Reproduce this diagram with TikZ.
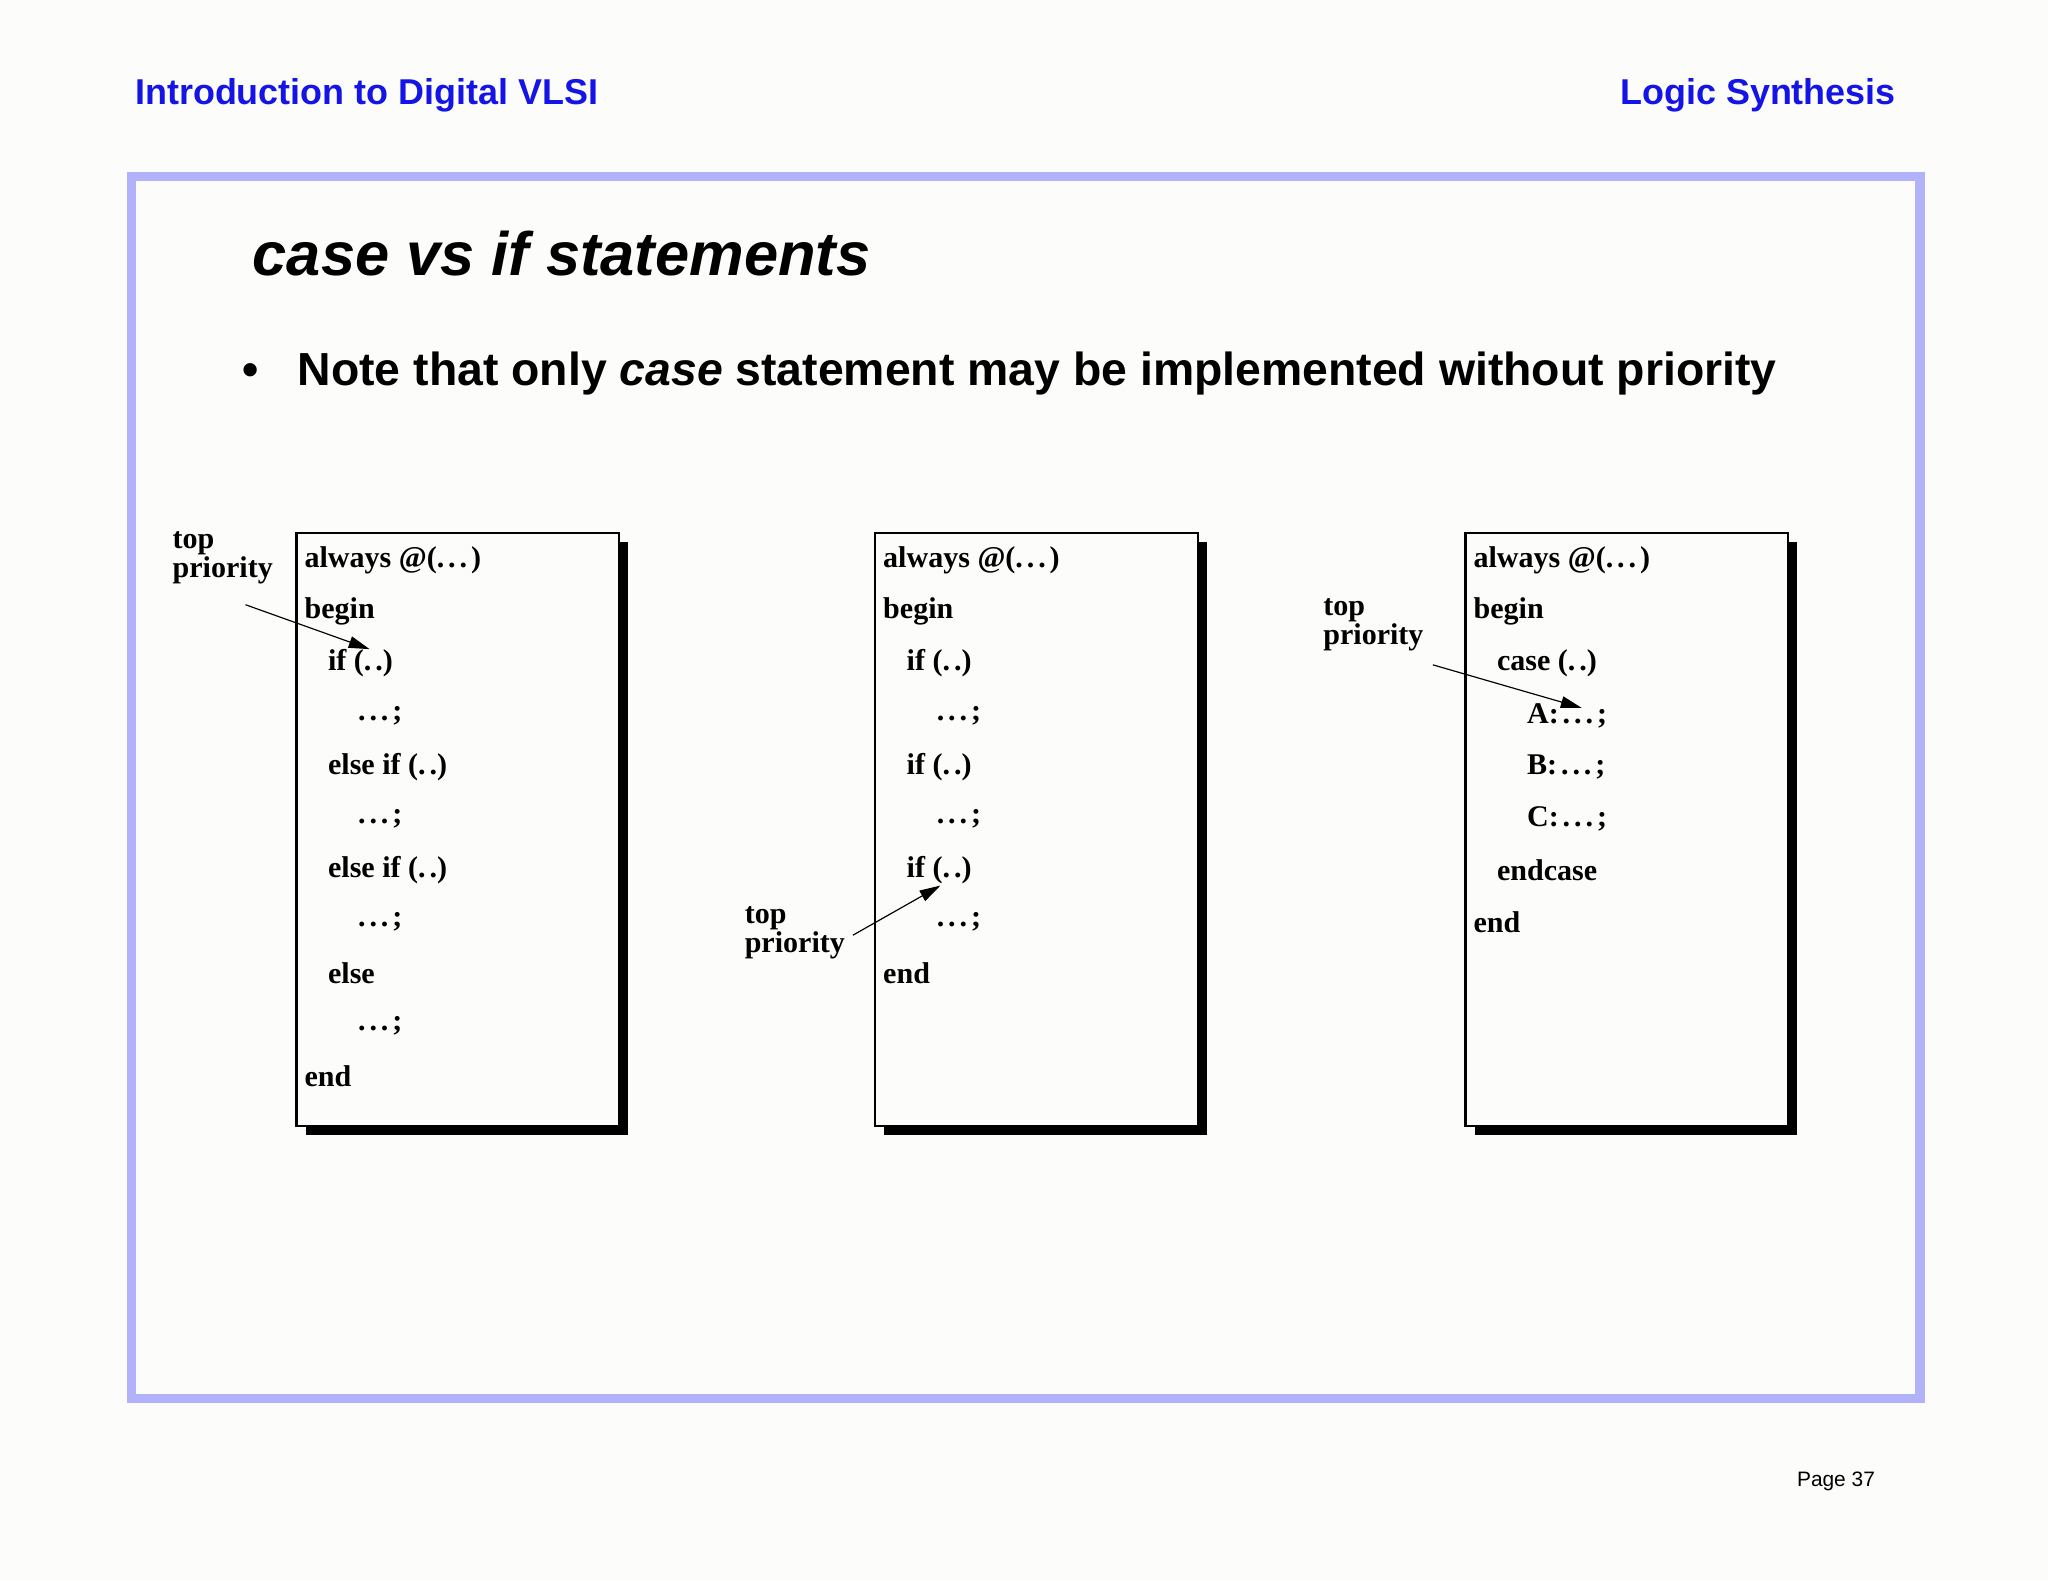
\documentclass[tikz,border=0pt]{standalone}
\usepackage{fontspec}
\setmainfont{Liberation Serif}
\newfontfamily\hdr{Liberation Sans}
\usetikzlibrary{arrows.meta}
\definecolor{frame}{RGB}{178,178,250}
\definecolor{hblue}{RGB}{20,20,230}
\definecolor{paper}{RGB}{252,253,250}
\newcommand{\dd}{.\hspace{3pt}.\hspace{3pt}.\hspace{3pt}}
\tikzset{
 codebox/.style={draw=black,line width=1.6pt,fill=paper},
 shadowbox/.style={fill=black},
 code/.style={anchor=west,inner sep=0pt,font=\fontsize{23}{24}\selectfont\bfseries},
 lbl/.style={anchor=north west,inner sep=0pt,align=left,font=\fontsize{23}{22}\selectfont\bfseries},
 arr/.style={line width=0.9pt,-{Triangle[length=16pt,width=9pt]}}
}
\begin{document}
\begin{tikzpicture}[x=1pt,y=-1pt]
\useasboundingbox (0,0) rectangle (1568,1210);
\fill[paper] (0,0) rectangle (1568,1210);
\draw[frame,line width=7pt] (101,135) rectangle (1470,1071);
\node[anchor=west,text=hblue,font=\hdr\fontsize{27.5}{30}\selectfont\bfseries] (h1) at (100,73) {Introduction to Digital VLSI};
\node[anchor=east,text=hblue,font=\hdr\fontsize{27.5}{30}\selectfont\bfseries] (h2) at (1455,73) {Logic Synthesis};
\node[anchor=west,font=\hdr\fontsize{47}{50}\selectfont\bfseries\itshape] (t) at (190,194) {case vs if statements};
\node[anchor=west,font=\hdr\fontsize{35.5}{38}\selectfont\bfseries] (b) at (182,286) {\textbullet\hspace{30pt}Note that only \textit{case} statement may be implemented without priority};
\node[anchor=east,font=\hdr\fontsize{16}{18}\selectfont] (pg) at (1439,1134) {Page 37};
\foreach \bx in {227,670,1122}{
  \fill[shadowbox] (\bx+7,415) rectangle (\bx+254,869);
  \draw[codebox] (\bx,408) rectangle (\bx+247,862);
}
% box 1
\node[code] (a1) at (233,429) {always @(\dd)};
\node[code] (a2) at (233,468) {begin};
\node[code] (a3) at (251,508) {if (.\hspace{3pt}.)};
\node[code] (a4) at (274,548) {\dd;};
\node[code] (a5) at (251,587) {else if (.\hspace{3pt}.)};
\node[code] (a6) at (274,627) {\dd;};
\node[code] (a7) at (251,666) {else if (.\hspace{3pt}.)};
\node[code] (a8) at (274,706) {\dd;};
\node[code] (a9) at (251,745) {else};
\node[code] (a10) at (274,785) {\dd;};
\node[code] (a11) at (233,824) {end};
% box 2
\node[code] (b1) at (676,429) {always @(\dd)};
\node[code] (b2) at (676,468) {begin};
\node[code] (b3) at (694,508) {if (.\hspace{3pt}.)};
\node[code] (b4) at (717,548) {\dd;};
\node[code] (b5) at (694,587) {if (.\hspace{3pt}.)};
\node[code] (b6) at (717,627) {\dd;};
\node[code] (b7) at (694,666) {if (.\hspace{3pt}.)};
\node[code] (b8) at (717,706) {\dd;};
\node[code] (b9) at (676,745) {end};
% box 3
\node[code] (c1) at (1128,429) {always @(\dd)};
\node[code] (c2) at (1128,468) {begin};
\node[code] (c3) at (1146,508) {case (.\hspace{3pt}.)};
\node[code] (c4) at (1169,548) {A:\hspace{3pt}\dd;};
\node[code] (c5) at (1169,587) {B:\hspace{3pt}\dd;};
\node[code] (c6) at (1169,627) {C:\hspace{3pt}\dd;};
\node[code] (c7) at (1146,666) {endcase};
\node[code] (c8) at (1128,706) {end};
\node[lbl] (l1) at (132,407) {top\\priority};
\node[lbl] (l2) at (570,694) {top\\priority};
\node[lbl] (l3) at (1013,458) {top\\priority};
\coordinate (p1s) at (188,463); \coordinate (p1e) at (283,497);
\coordinate (p2s) at (653,716); \coordinate (p2e) at (720,678);
\coordinate (p3s) at (1097,509); \coordinate (p3e) at (1211,542);
\draw[arr] (p1s) -- (p1e);
\draw[arr] (p2s) -- (p2e);
\draw[arr] (p3s) -- (p3e);
\end{tikzpicture}
\end{document}
